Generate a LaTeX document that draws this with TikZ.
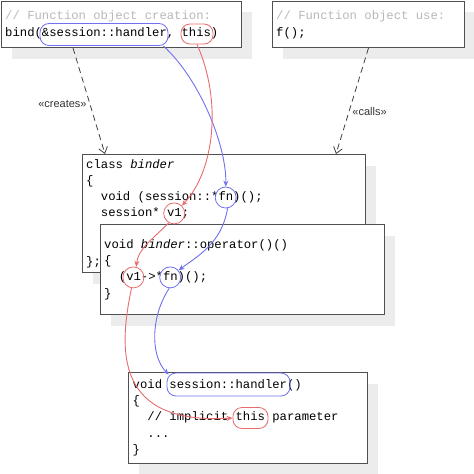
\documentclass[tikz,border=0pt]{standalone}
\usepackage{fontspec}
\setmainfont{Liberation Sans}
\newfontfamily\codefont{Liberation Mono}
\usetikzlibrary{arrows.meta,shadows}
\definecolor{flowblue}{RGB}{112,112,240}
\definecolor{flowred}{RGB}{232,108,108}
\definecolor{boxedge}{RGB}{80,80,80}
\definecolor{boxshade}{RGB}{236,236,236}
\definecolor{remark}{RGB}{185,185,185}

\tikzset{
  codebox/.style={draw=boxedge, line width=1pt, fill=white, anchor=north west, inner sep=0pt,
    drop shadow={shadow xshift=10pt, shadow yshift=-11pt, fill=boxshade, opacity=1}},
  code/.style={anchor=base west, inner sep=0pt, font=\codefont\fontsize{12.25}{15}\selectfont},
  remarkline/.style={code, text=remark},
  tag/.style={inner sep=0pt, font=\fontsize{11}{13}\selectfont, text=black!80},
  pill/.style={draw, line width=0.8pt, rounded corners=9pt, inner sep=0pt},
  ring/.style={draw, line width=0.8pt, circle, minimum size=21pt, inner sep=0pt},
  umlflow/.style={draw=black!75, line width=0.8pt, dash pattern=on 6pt off 4pt,
    -{Straight Barb[length=6pt,width=9pt]}},
  blueflow/.style={draw=flowblue, line width=0.9pt, -{Stealth[length=6pt,width=5pt]}},
  redflow/.style={draw=flowred, line width=0.9pt, -{Stealth[length=6pt,width=5pt]}},
}

\begin{document}
\begin{tikzpicture}[x=1pt, y=-1pt]
\useasboundingbox (0,0) rectangle (474,474);

% the two call sites
\node[codebox, minimum width=240pt, minimum height=46.5pt] (creation) at (1,0.5) {};
\node[remarkline] (creation1) at (5,19) {// Function object creation:};
\node[code] (creation2) at (5,36) {bind(\&session::handler, this)};

\node[codebox, minimum width=192pt, minimum height=46.5pt] (use) at (272,0.5) {};
\node[remarkline] (use1) at (276,19) {// Function object use:};
\node[code] (use2) at (276,36) {f();};

% the binder class
\node[codebox, minimum width=283pt, minimum height=118pt] (binderclass) at (82,154) {};
\node[code] (binderclass1) at (86,168) {class \textit{binder}};
\node[code] (binderclass2) at (86,184.3) {\{};
\node[code] (binderclass3) at (100.7,200.6) {void (session::*fn)();};
\node[code] (binderclass4) at (100.7,216.9) {session* v1;};
\node[code] (binderclass5) at (86,265.8) {\};};

\node[codebox, minimum width=284pt, minimum height=90pt] (callop) at (100,224) {};
\node[code] (callop1) at (104,248.3) {void \textit{binder}::operator()()};
\node[code] (callop2) at (104,264.6) {\{};
\node[code] (callop3) at (118.7,280.9) {(v1->*fn)();};
\node[code] (callop4) at (104,297.2) {\}};

% the handler
\node[codebox, minimum width=239pt, minimum height=91pt] (handler) at (128,372) {};
\node[code] (handler1) at (132.5,388.3) {void session::handler()};
\node[code] (handler2) at (132.5,404.6) {\{};
\node[code] (handler3) at (147.2,420.9) {// implicit this parameter};
\node[code] (handler4) at (147.2,437.2) {...};
\node[code] (handler5) at (132.5,453.5) {\}};

% highlights
\node[pill, draw=flowblue, minimum width=128pt, minimum height=22pt] (handlerref) at (104,34.5) {};
\node[pill, draw=flowred, minimum width=32pt, minimum height=20pt] (thisref) at (197,34) {};
\node[ring, draw=flowblue] (fnmember) at (225.7,197.5) {};
\node[ring, draw=flowred] (vmember) at (174.2,213.4) {};
\node[ring, draw=flowred] (vcall) at (133.4,277.4) {};
\node[ring, draw=flowblue] (fncall) at (170.2,277.4) {};
\node[pill, draw=flowblue, minimum width=123pt, minimum height=23pt] (handlerdef) at (228.5,384.5) {};
\node[pill, draw=flowred, minimum width=35pt, minimum height=21pt] (thisdef) at (250.5,418) {};

% uml dependencies
\draw[umlflow] ([xshift=72pt]creation.south west) -- ([xshift=23pt]binderclass.north west)
  node[tag, pos=0.53, left=3pt] (createstag) {«creates»};
\draw[umlflow] (use.south) -- ([xshift=-30pt]binderclass.north east)
  node[tag, pos=0.6, right=3pt] (callstag) {«calls»};

% data flow
\draw[blueflow] ([xshift=-5pt]handlerref.south east) .. controls +(37,34) and +(1,-40) .. (fnmember.north);
\draw[redflow] (thisref.south) .. controls +(25,56) and +(33,-36) .. (vmember.45);
\draw[redflow] (vmember.-120) .. controls +(-18,18) and +(2,-18) .. (vcall.75);
\draw[blueflow] (fnmember.-80) .. controls +(-6,35) and +(20,-15) .. (fncall.40);
\draw[blueflow] (fncall.-95) .. controls +(-18,27) and +(-19,-20) .. ([xshift=2pt,yshift=-2pt]handlerdef.north west);
\draw[redflow] (vcall.-100) .. controls +(-13,62) and +(-118,7) .. (thisdef.west);

\end{tikzpicture}
\end{document}
